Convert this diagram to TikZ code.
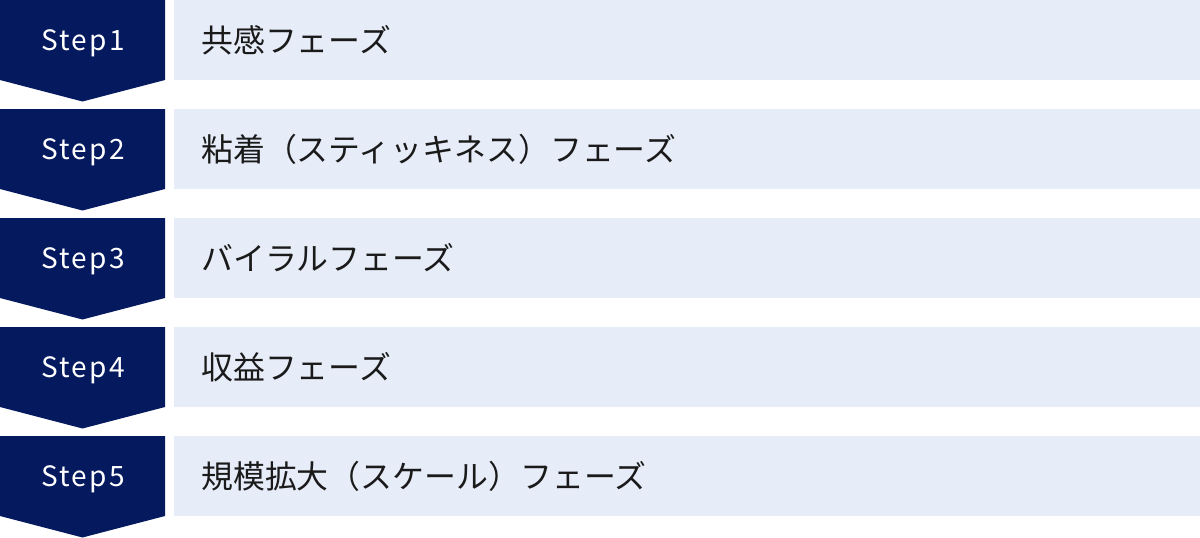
\documentclass[tikz,border=0pt]{standalone}
\usepackage{fontspec}
\setmainfont{Noto Sans CJK JP}
\newfontfamily\steplatin[LetterSpace=8]{Noto Sans CJK JP}
\usepackage{tikz}
\definecolor{stepnavy}{HTML}{05195F}
\definecolor{phasebg}{HTML}{E6ECF8}
\definecolor{phaseink}{HTML}{1A1A1A}
\tikzset{
 steplabel/.style={text=white, font=\steplatin\fontsize{28}{30}\selectfont, inner sep=0pt},
 phaselabel/.style={text=phaseink, font=\fontsize{31.9}{34}\selectfont, anchor=west, inner sep=0pt}
}

\begin{document}
\begin{tikzpicture}[x=1pt,y=-1pt]
 \useasboundingbox (0,0) rectangle (1200,538);

 % Filas de pasos
 \foreach \i/\txt [count=\n from 0] in {1/共感フェーズ,2/粘着（スティッキネス）フェーズ,3/バイラルフェーズ,4/収益フェーズ,5/規模拡大（スケール）フェーズ}
 {
  % Flecha
  \fill[stepnavy] (0,\n*109) -- ++(165,0) -- ++(0,80) -- ++(-82.5,21.5) -- ++(-82.5,-21.5) -- cycle;
  % Banda
  \fill[phasebg] (174,\n*109) rectangle ++(1026,80);
  % Etiquetas
  \node[steplabel] (step\i) at (83,\n*109+43) {Step\i};
  \node[phaselabel] (phase\i) at (201,\n*109+40) {\txt};
 }
\end{tikzpicture}
\end{document}
